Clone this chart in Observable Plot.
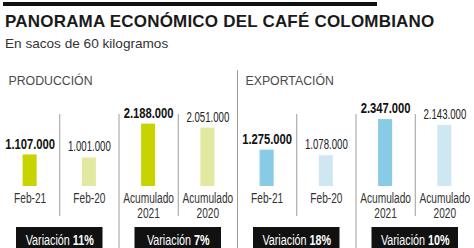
<!DOCTYPE html>
<html>
<head>
<meta charset="utf-8">
<script src="https://cdn.jsdelivr.net/npm/d3@7"></script>
<script src="https://cdn.jsdelivr.net/npm/@observablehq/plot@0.6"></script>
<style>
  html, body { margin: 0; padding: 0; background: #fff; }
  body { width: 474px; height: 248px; overflow: hidden; position: relative;
         font-family: "Liberation Sans", Arial, sans-serif; }
  #rule { position: absolute; left: 3px; top: 2px; width: 374px; height: 4px; background: #111; }
  #title { position: absolute; left: 5px; top: 12px; line-height: 20px; font-size: 17px; font-weight: bold;
           letter-spacing: 0.2px; color: #1a1a1a; white-space: nowrap; }
  #subtitle { position: absolute; left: 5px; top: 35px; line-height: 18px; font-size: 13.6px;
              color: #333; white-space: nowrap; }
  #chart { position: absolute; left: 0; top: 56px; }
  #boxes { position: absolute; left: 0; top: 227px; }
  svg { display: block; }
</style>
</head>
<body>
<div id="rule"></div>
<div id="title">PANORAMA ECONÓMICO DEL CAFÉ COLOMBIANO</div>
<div id="subtitle">En sacos de 60 kilogramos</div>
<div id="chart"></div>
<div id="boxes"></div>
<script>
// ---- data ----
const sections = ["PRODUCCIÓN", "EXPORTACIÓN"];
const categories = ["Feb-21", "Feb-20", "Acumulado\n2021", "Acumulado\n2020"];
const produccion = [1107000, 1001000, 2188000, 2051000];
const exportacion = [1275000, 1078000, 2347000, 2143000];
const variacionProduccion = ["11%", "7%"];
const variacionExportacion = ["18%", "10%"];
const coloresProduccion = ["#c8d400", "#e4e9a2"];
const coloresExportacion = ["#88cbe4", "#cfe7f2"];

// ---- tables built from the arrays ----
const seriesValues = [produccion, exportacion];
const seriesColors = [coloresProduccion, coloresExportacion];
const seriesVariacion = [variacionProduccion, variacionExportacion];
const nCat = categories.length;
const rows = [];
sections.forEach((s, si) => categories.forEach((c, ci) => rows.push({
  i: si * nCat + ci, section: s, category: c, value: seriesValues[si][ci],
  color: seriesColors[si][ci % 2], current: ci % 2 === 0
})));
const sectionRows = sections.map((s, si) => ({start: si * nCat, label: s}));
const variaciones = [];
sections.forEach((s, si) => seriesVariacion[si].forEach((p, k) => variaciones.push({start: si * nCat + 2 * k, pct: p})));
const sectionRules = sections.slice(1).map((s, si) => (si + 1) * nCat);
const pairRules = d3.range(1, sections.length * nCat).filter(k => k % 2 === 0 && k % nCat !== 0);
const sideRules = d3.range(1, sections.length * nCat).filter(k => k % 2 === 1);

const fmt = d3.formatLocale({decimal: ",", thousands: ".", grouping: [3], currency: ["$", ""]}).format(",d");
const W = 474;
const xDomain = [0, sections.length * nCat];
const grey = "#9c9c9c";

const chart = Plot.plot({
  width: W, height: 171,
  marginLeft: 0, marginRight: 0, marginTop: 16, marginBottom: 41,
  style: {fontFamily: "'Liberation Sans', Arial, sans-serif", background: "transparent", overflow: "visible"},
  x: {domain: xDomain, axis: null},
  y: {domain: [0, 4000000], axis: null},
  color: {type: "identity"},
  marks: [
    Plot.ruleX(sectionRules, {x: d => d, stroke: grey, insetTop: -2, insetBottom: -41}),
    Plot.ruleX(pairRules, {x: d => d, stroke: grey, insetTop: 42, insetBottom: -41}),
    Plot.ruleX(sideRules, {x: d => d, stroke: grey, insetTop: 42, insetBottom: -30}),
    Plot.rectY(rows, {x1: "i", x2: d => d.i + 1, y: "value", fill: "color", insetLeft: 22.6, insetRight: 22.6}),
    // text group 0: bold current-year values
    Plot.text(rows.filter(d => d.current), {x: d => d.i + 0.5, y: "value", text: d => fmt(d.value),
      dy: -11, fontSize: 14.5, fontWeight: "bold", fill: "#111"}),
    // text group 1: previous-year values
    Plot.text(rows.filter(d => !d.current), {x: d => d.i + 0.5, y: "value", text: d => fmt(d.value),
      dy: -11, fontSize: 14, fill: "#222"}),
    // text group 2: category labels
    Plot.text(rows, {x: d => d.i + 0.5, frameAnchor: "bottom", text: "category", lineAnchor: "top",
      dy: 5.9, fontSize: 14.5, lineHeight: 1.03, fill: "#333"}),
    // text group 3: section labels
    Plot.text(sectionRows, {x: "start", frameAnchor: "top", text: "label", textAnchor: "start",
      dx: 8, dy: 4, fontSize: 12.3, fill: "#4a4a4a"})
  ]
});
document.getElementById("chart").appendChild(chart);

const boxes = Plot.plot({
  width: W, height: 26,
  marginLeft: 0, marginRight: 0, marginTop: 0, marginBottom: 0,
  style: {fontFamily: "'Liberation Sans', Arial, sans-serif", background: "transparent"},
  x: {domain: xDomain, axis: null},
  marks: [
    Plot.ruleX([...pairRules, ...sectionRules], {x: d => d, stroke: grey}),
    Plot.rect(variaciones, {x1: "start", x2: d => d.start + 2, fill: "#111", insetLeft: 16, insetRight: 16}),
    Plot.text(variaciones, {x: d => d.start + 1, frameAnchor: "middle", text: d => "Variación " + d.pct,
      fill: "#fff", fontSize: 15})
  ]
});
document.getElementById("boxes").appendChild(boxes);

const chartTextGroups = chart.querySelectorAll('g[aria-label="text"]');
const boxTextGroups = boxes.querySelectorAll('g[aria-label="text"]');

// bold the percentage inside each "Variación" label
boxTextGroups[0].querySelectorAll("text").forEach(t => {
  const s = t.textContent;
  const k = s.lastIndexOf(" ");
  t.textContent = "";
  const a = document.createElementNS("http://www.w3.org/2000/svg", "tspan");
  a.textContent = s.slice(0, k + 1);
  const b = document.createElementNS("http://www.w3.org/2000/svg", "tspan");
  b.textContent = s.slice(k + 1);
  b.setAttribute("font-weight", "bold");
  t.appendChild(a); t.appendChild(b);
});

// emulate the condensed typeface of the original: narrow each label around its own anchor
function condense(group, f) {
  if (!group) return;
  group.querySelectorAll("text").forEach(t => {
    let tr = t.getAttribute("transform") || "";
    const x = +(t.getAttribute("x") || 0), y = +(t.getAttribute("y") || 0);
    if (x || y) {
      t.removeAttribute("x"); t.removeAttribute("y");
      tr = `translate(${x},${y}) ` + tr;
    }
    t.setAttribute("transform", `${tr} scale(${f},1)`);
  });
}
condense(chartTextGroups[0], 0.775);
condense(chartTextGroups[1], 0.69);
condense(chartTextGroups[2], 0.70);
condense(boxTextGroups[0], 0.72);
</script>
</body>
</html>
